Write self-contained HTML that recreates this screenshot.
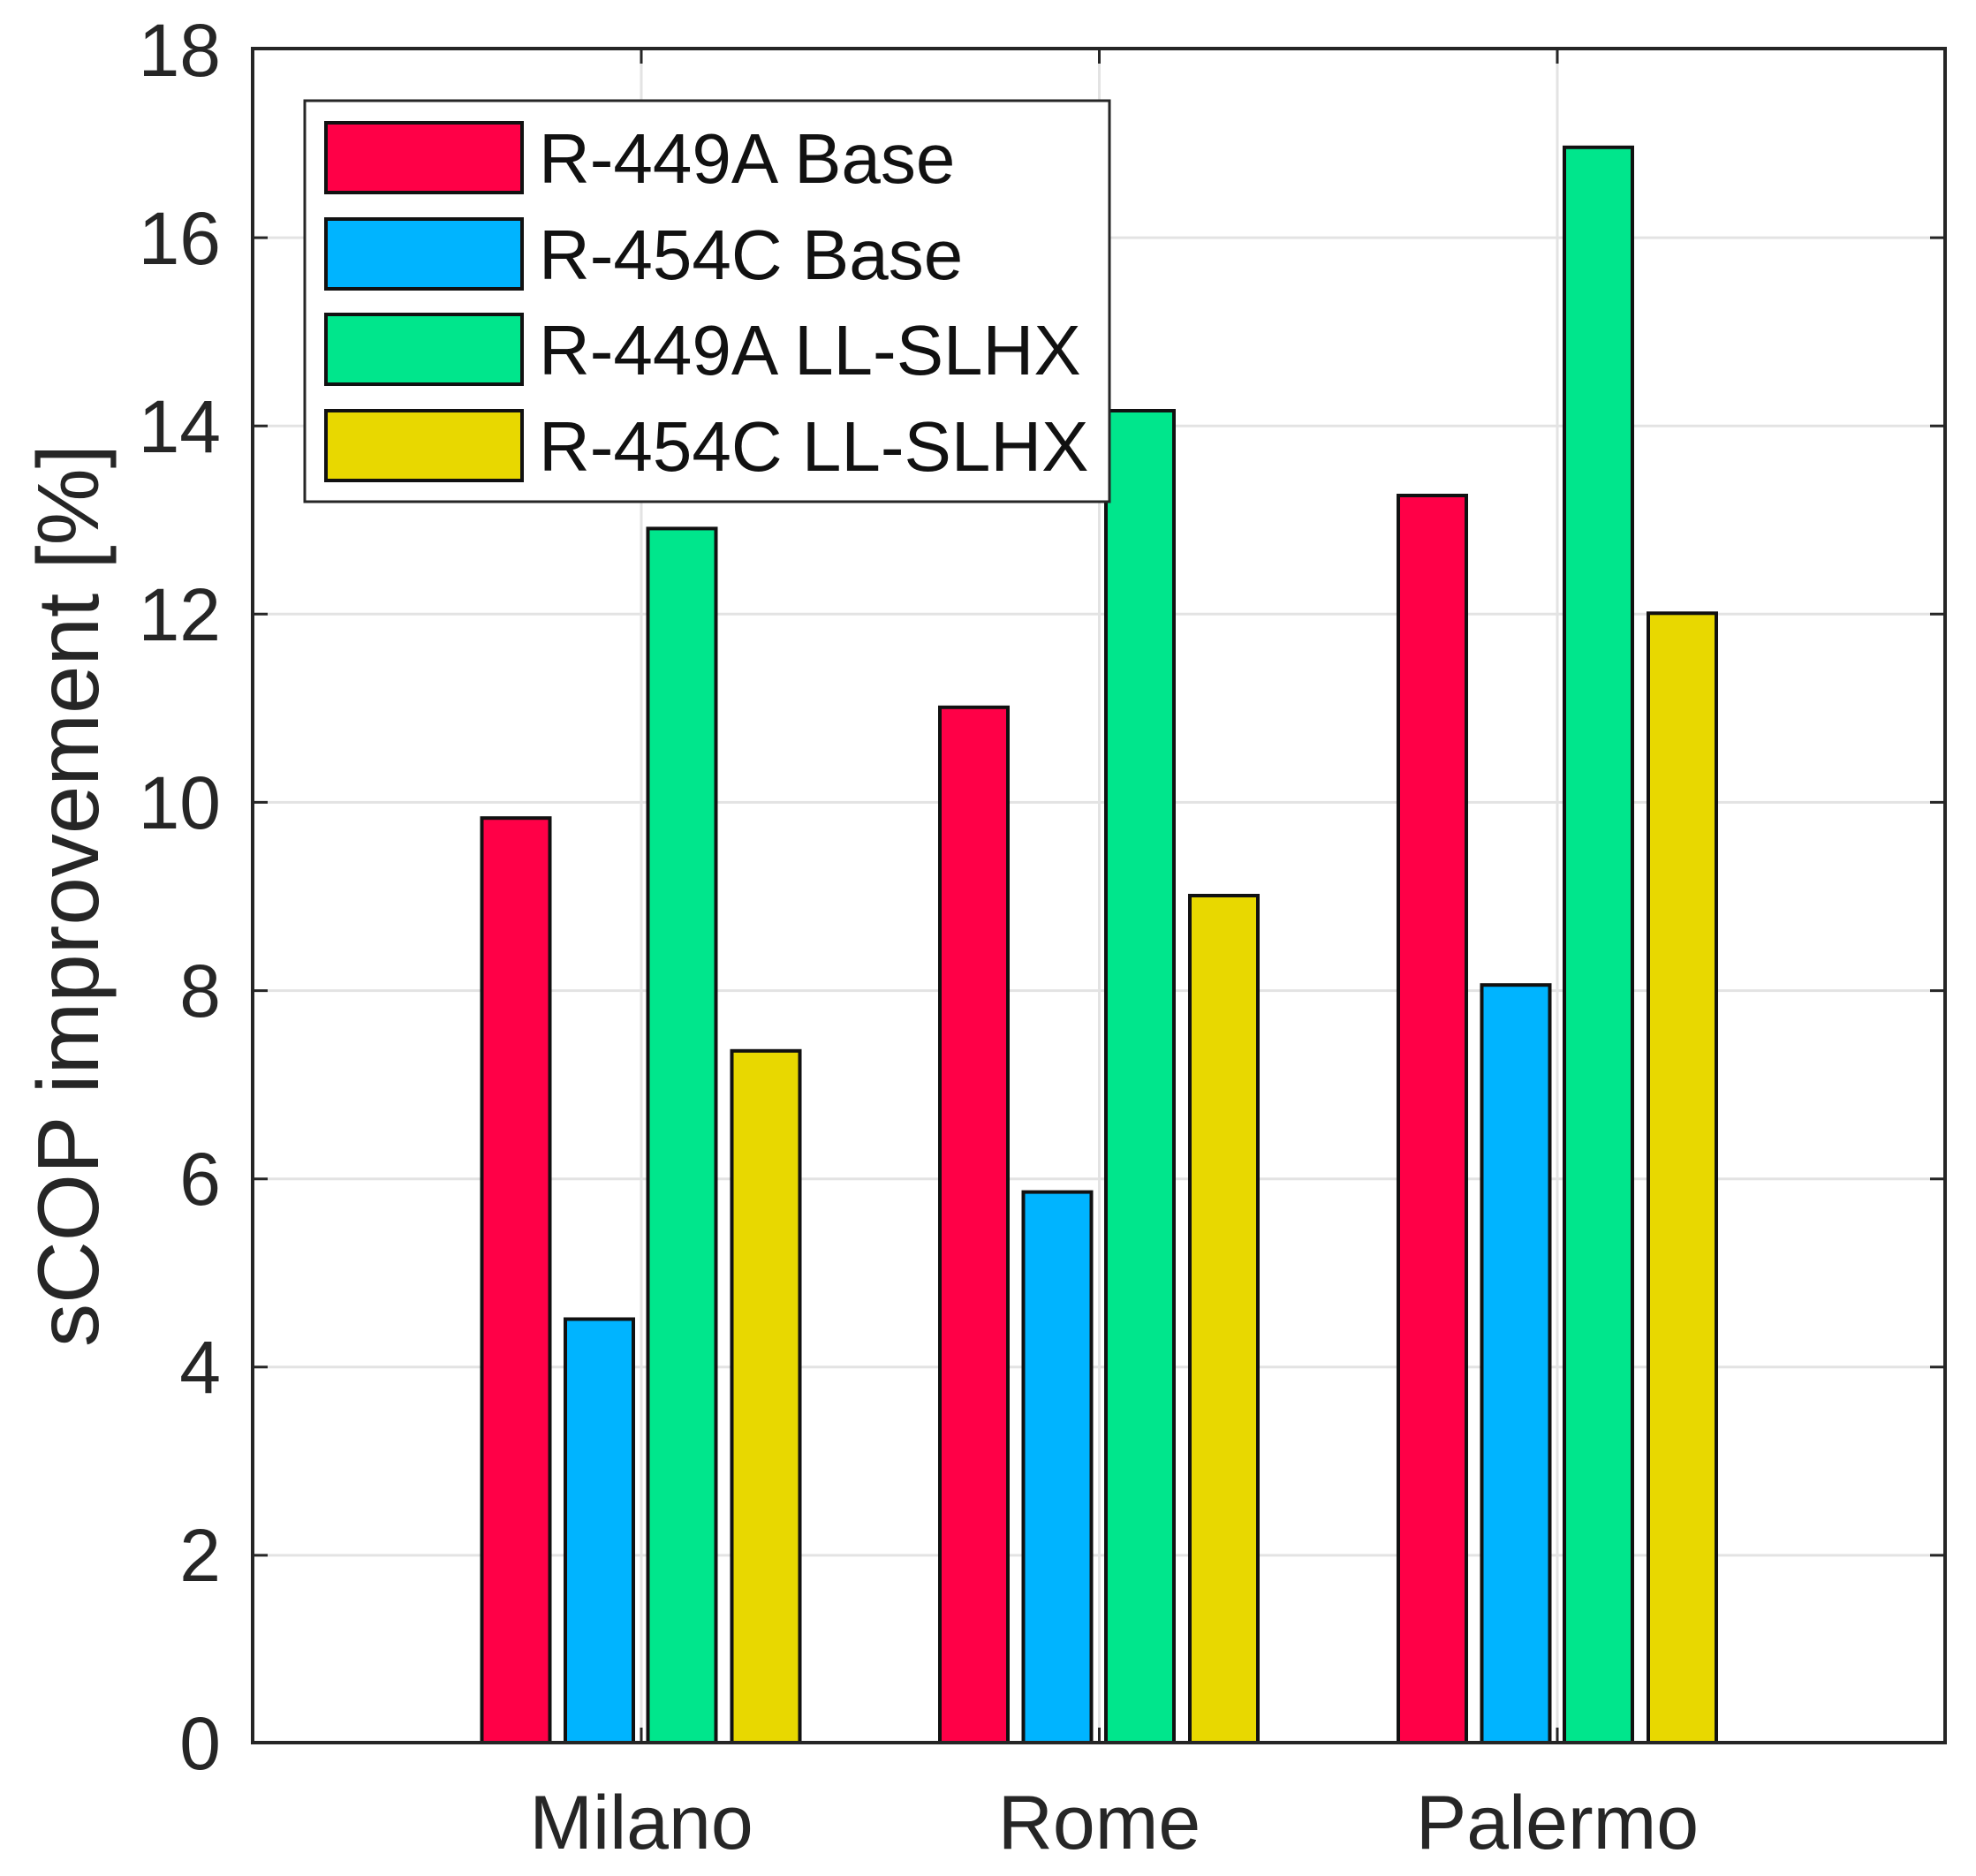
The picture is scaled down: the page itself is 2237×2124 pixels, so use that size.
<!DOCTYPE html>
<html><head><meta charset="utf-8"><style>html,body{margin:0;padding:0;background:#fff}svg{display:block}</style></head>
<body>
<svg width="2237" height="2124" viewBox="0 0 2237 2124" xmlns="http://www.w3.org/2000/svg" font-family="Liberation Sans, Arial, sans-serif" fill="#262626">
<rect width="2237" height="2124" fill="#fff"/>
<g stroke="#e3e3e3" stroke-width="3">
<line x1="286" x2="2202" y1="1760.9" y2="1760.9"/>
<line x1="286" x2="2202" y1="1547.8" y2="1547.8"/>
<line x1="286" x2="2202" y1="1334.7" y2="1334.7"/>
<line x1="286" x2="2202" y1="1121.6" y2="1121.6"/>
<line x1="286" x2="2202" y1="908.4" y2="908.4"/>
<line x1="286" x2="2202" y1="695.3" y2="695.3"/>
<line x1="286" x2="2202" y1="482.2" y2="482.2"/>
<line x1="286" x2="2202" y1="269.1" y2="269.1"/>
<line x1="726" x2="726" y1="55" y2="1973"/>
<line x1="1244.5" x2="1244.5" y1="55" y2="1973"/>
<line x1="1763" x2="1763" y1="55" y2="1973"/>
</g>
<g stroke="#111" stroke-width="4">
<!-- Milano -->
<rect x="545.5" y="926.2" width="77" height="1046.8" fill="#FF0047"/>
<rect x="640" y="1493.5" width="77" height="479.5" fill="#00B4FF"/>
<rect x="733.5" y="598.4" width="77" height="1374.6" fill="#00E68C"/>
<rect x="828.5" y="1189.8" width="77" height="783.2" fill="#E8D800"/>
<!-- Rome -->
<rect x="1064" y="800.8" width="77" height="1172.2" fill="#FF0047"/>
<rect x="1158.5" y="1349.6" width="77" height="623.4" fill="#00B4FF"/>
<rect x="1252" y="465" width="77" height="1508" fill="#00E68C"/>
<rect x="1347" y="1014" width="77" height="959" fill="#E8D800"/>
<!-- Palermo -->
<rect x="1583" y="561" width="77" height="1412" fill="#FF0047"/>
<rect x="1677.5" y="1115.2" width="77" height="857.8" fill="#00B4FF"/>
<rect x="1771" y="166.8" width="77" height="1806.2" fill="#00E68C"/>
<rect x="1866" y="694.3" width="77" height="1278.7" fill="#E8D800"/>
</g>
<g stroke="#262626" stroke-width="3">
<path d="M286 1760.9h17M286 1547.8h17M286 1334.7h17M286 1121.6h17M286 908.4h17M286 695.3h17M286 482.2h17M286 269.1h17"/>
<path d="M2202 1760.9h-17M2202 1547.8h-17M2202 1334.7h-17M2202 1121.6h-17M2202 908.4h-17M2202 695.3h-17M2202 482.2h-17M2202 269.1h-17"/>
<path d="M726 1973v-17M1244.5 1973v-17M1763 1973v-17M726 55v17M1244.5 55v17M1763 55v17"/>
</g>
<rect x="286" y="55" width="1916" height="1918" fill="none" stroke="#262626" stroke-width="4"/>
<g font-size="84" text-anchor="end">
<text x="250" y="2003">0</text>
<text x="250" y="1790">2</text>
<text x="250" y="1577">4</text>
<text x="250" y="1364">6</text>
<text x="250" y="1151">8</text>
<text x="250" y="938">10</text>
<text x="250" y="725">12</text>
<text x="250" y="512">14</text>
<text x="250" y="299">16</text>
<text x="250" y="86">18</text>
</g>
<g font-size="86" text-anchor="middle">
<text x="726" y="2093">Milano</text>
<text x="1244.5" y="2093">Rome</text>
<text x="1763" y="2093">Palermo</text>
</g>
<text transform="translate(111,1014) rotate(-90)" font-size="98" text-anchor="middle">sCOP improvement [%]</text>
<rect x="345" y="114" width="911" height="454" fill="#fff" stroke="#262626" stroke-width="3"/>
<g stroke="#111" stroke-width="4">
<rect x="369" y="139" width="222" height="79" fill="#FF0047"/>
<rect x="369" y="248" width="222" height="79" fill="#00B4FF"/>
<rect x="369" y="356" width="222" height="79" fill="#00E68C"/>
<rect x="369" y="465" width="222" height="79" fill="#E8D800"/>
</g>
<g font-size="80" fill="#111">
<text x="610" y="207">R-449A Base</text>
<text x="610" y="316">R-454C Base</text>
<text x="610" y="424">R-449A LL-SLHX</text>
<text x="610" y="533">R-454C LL-SLHX</text>
</g>
</svg>
</body></html>
